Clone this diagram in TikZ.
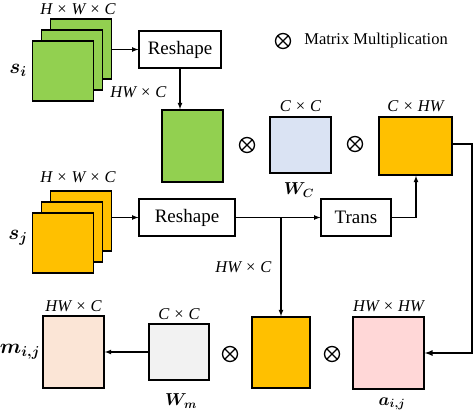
\documentclass[tikz,border=0pt]{standalone}
\usepackage{fontspec}
\usepackage{amsmath}
\setmainfont{Liberation Serif}
\usetikzlibrary{positioning}
\definecolor{matgreen}{HTML}{92D050}
\definecolor{matorange}{HTML}{FFC000}
\definecolor{matblue}{HTML}{DAE3F3}
\definecolor{matpink}{HTML}{FFD7D7}
\definecolor{matgray}{HTML}{F2F2F2}
\definecolor{matpeach}{HTML}{FBE5D6}
\begin{document}
\begin{tikzpicture}[x=1pt,y=-1pt,>=latex,
  mat/.style={draw,line width=1.6pt,inner sep=0pt},
  op node/.style={draw,line width=1.2pt,font=\fontsize{19}{20}\selectfont,inner sep=0pt},
  mult/.style={circle,draw,line width=1.3pt,minimum size=15pt,inner sep=0pt,
    path picture={\draw[line width=1.3pt] (path picture bounding box.north west)--(path picture bounding box.south east)
      (path picture bounding box.north east)--(path picture bounding box.south west);}},
  dim/.style={font=\fontsize{16.5}{17}\selectfont\itshape,inner sep=1pt},
  var node/.style={font=\fontsize{21}{22}\selectfont},
  flow/.style={->,line width=1.2pt}]
  \useasboundingbox (0,0) rectangle (474,416);

  % inputs
  \node[mat,fill=matgreen,minimum width=61pt,minimum height=60pt] (si3) at (81,49) {};
  \node[mat,fill=matgreen,minimum width=61pt,minimum height=60pt] (si2) at (72,60) {};
  \node[mat,fill=matgreen,minimum width=61pt,minimum height=60pt] (si1) at (63,71) {};
  \node[dim] at (78,9) {H × W × C};
  \node[var node] (si) at (18,70) {$\boldsymbol{s_i}$};

  \node[mat,fill=matorange,minimum width=61pt,minimum height=60pt] (sj3) at (81,221) {};
  \node[mat,fill=matorange,minimum width=61pt,minimum height=60pt] (sj2) at (72,232) {};
  \node[mat,fill=matorange,minimum width=61pt,minimum height=60pt] (sj1) at (63,243) {};
  \node[dim] at (78,177) {H × W × C};
  \node[var node] (sj) at (18,238) {$\boldsymbol{s_j}$};

  % operations
  \node[op node,minimum width=82pt,minimum height=37pt] (reshape1) at (180,49.5) {Reshape};
  \node[op node,minimum width=96pt,minimum height=37pt] (reshape2) at (187,217.5) {Reshape};
  \node[op node,minimum width=70pt,minimum height=37pt] (trans) at (356,217.5) {Trans};

  % legend
  \node[mult] (legend) at (283,41) {};
  \node[right=13pt of legend,font=\fontsize{16.5}{17}\selectfont,inner sep=0pt] {Matrix Multiplication};

  % middle row
  \node[mat,fill=matgreen,minimum width=61pt,minimum height=72pt] (qi) at (192.5,146) {};
  \node[mult] (m1) at (247,145) {};
  \node[mat,fill=matblue,minimum width=61pt,minimum height=56pt] (wc) at (300.5,145) {};
  \node[dim,above=3pt of wc] {C × C};
  \node[var node,font=\fontsize{18}{19}\selectfont] at (299,190) {$\boldsymbol{W_C}$};
  \node[mult] (m2) at (355,144) {};
  \node[mat,fill=matorange,minimum width=73pt,minimum height=58pt] (kj) at (415.5,146) {};
  \node[dim,above=3pt of kj] {C × HW};

  % bottom row
  \node[mat,fill=matpeach,minimum width=61pt,minimum height=72pt] (mij) at (73.5,352) {};
  \node[dim,above=2pt of mij] {HW × C};
  \node[var node] at (20,352) {$\boldsymbol{m_{i,j}}$};
  \node[mat,fill=matgray,minimum width=60pt,minimum height=56pt] (wm) at (179,352) {};
  \node[dim,above=2pt of wm] {C × C};
  \node[var node,font=\fontsize{18}{19}\selectfont] at (181,401) {$\boldsymbol{W_m}$};
  \node[mult] (m3) at (230,354) {};
  \node[mat,fill=matorange,minimum width=58pt,minimum height=71pt] (vj) at (281,352.5) {};
  \node[mult] (m4) at (332,354) {};
  \node[mat,fill=matpink,minimum width=71pt,minimum height=72pt] (aij) at (388.5,353) {};
  \node[dim,above=3pt of aij] {HW × HW};
  \node[var node,font=\fontsize{18}{19}\selectfont] at (392,404) {$\boldsymbol{a_{i,j}}$};

  \coordinate (split) at (281,217.5);
  \coordinate (up) at (416,217.5);
  \coordinate (right top) at (472,144);
  \coordinate (right bottom) at (472,353);

  \draw[flow] (si3.east |- reshape1) -- (reshape1);
  \draw[flow] (reshape1.south) -- (reshape1.south |- qi.north) node[dim,midway,left=12pt,yshift=-3pt] {HW × C};
  \draw[flow] (sj3.east |- reshape2) -- (reshape2);
  \draw[flow] (reshape2) -- (trans);
  \draw[flow] (split) -- (vj.north) node[dim,midway,left=8pt] {HW × C};
  \draw[flow] (trans) -- (up) -- (up |- kj.south);
  \draw[flow,line width=1.7pt] (kj.east |- right top) -- (right top) -- (right bottom) -- (aij.east |- right bottom);
  \draw[flow] (wm) -- (mij);
\end{tikzpicture}
\end{document}
